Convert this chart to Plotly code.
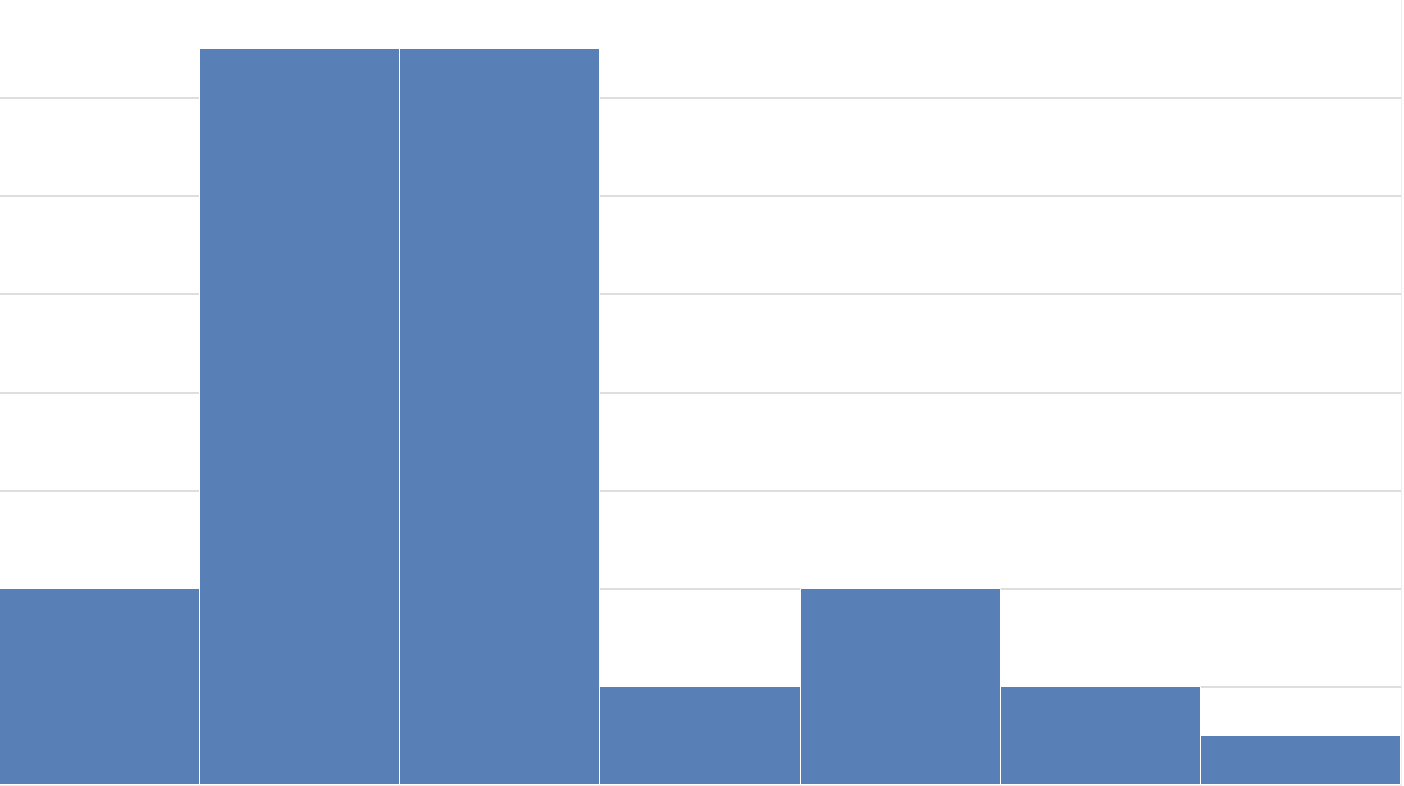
import plotly.graph_objects as go

bins = [0, 1, 2, 3, 4, 5, 6]
values = [2, 7.5, 7.5, 1, 2, 1, 0.5]

fig = go.Figure(go.Bar(
    x=bins, y=values,
    marker=dict(color="#5880b7", line=dict(color="white", width=1)),
    width=1,
))
fig.update_layout(
    width=1404, height=786,
    margin=dict(l=0, r=3, t=0, b=1),
    plot_bgcolor="white", paper_bgcolor="white",
    bargap=0, showlegend=False,
)
fig.update_xaxes(range=[-0.5, 6.5], showticklabels=False, showgrid=False, zeroline=False,
                 showline=True, mirror=True, linecolor="#eeeeee", linewidth=1)
fig.update_yaxes(range=[0, 8], dtick=1, showticklabels=False, showgrid=True, gridcolor="#dedede",
                 gridwidth=2, zeroline=False, showline=True, mirror=True, linecolor="#eeeeee", linewidth=1)
fig.write_html("out.html", config={"displayModeBar": False},
               post_script="document.body.style.margin='0';document.body.style.overflow='hidden';")
